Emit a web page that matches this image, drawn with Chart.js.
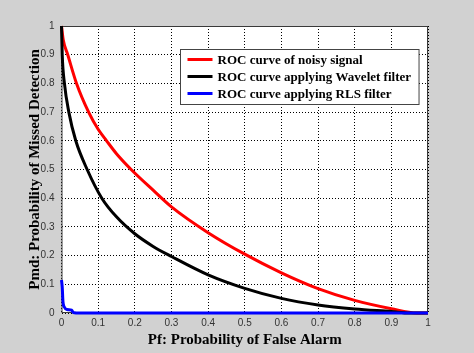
<!DOCTYPE html>
<html lang="en">
<head>
  <meta charset="UTF-8" />
  <title>ROC curves</title>
  <script src="https://cdn.jsdelivr.net/npm/chart.js"></script>
  <style>
    body {
      margin: 0;
      background: #d1d1d1;
    }
    canvas {
      display: block;
    }
  </style>
</head>
<body>
<canvas id="chart" width="474" height="353"></canvas>

<script>
// values (Pf on x, Pmd on y)
const seriesLabels = [
  "ROC curve of noisy signal",
  "ROC curve applying Wavelet filter",
  "ROC curve applying RLS filter"
];
const seriesColors = ["#ff0000", "#000000", "#0000ff"];

const noisyPf  = [0, 0.005, 0.017, 0.041, 0.074, 0.1, 0.123, 0.15, 0.19, 0.25, 0.3, 0.4, 0.5, 0.6, 0.7, 0.8, 0.9, 0.97, 1];
const noisyPmd = [1, 0.95, 0.9, 0.8, 0.7, 0.64, 0.6, 0.555, 0.5, 0.428, 0.37, 0.28, 0.205, 0.14, 0.085, 0.044, 0.015, 0, 0];

const waveletPf  = [0, 0.002, 0.008, 0.02, 0.039, 0.07, 0.11, 0.15, 0.2, 0.25, 0.3, 0.4, 0.5, 0.6, 0.7, 0.8, 0.9, 0.95, 1];
const waveletPmd = [1, 0.9, 0.8, 0.7, 0.6, 0.5, 0.4, 0.335, 0.276, 0.232, 0.197, 0.133, 0.086, 0.051, 0.028, 0.014, 0.005, 0, 0];

const rlsPf  = [0, 0.002, 0.004, 0.008, 0.015, 0.028, 0.032, 0.05, 1];
const rlsPmd = [0.115, 0.09, 0.04, 0.02, 0.012, 0.01, 0.002, 0, 0];

const xTicks = [0, 0.1, 0.2, 0.3, 0.4, 0.5, 0.6, 0.7, 0.8, 0.9, 1];
const yTicks = [0, 0.1, 0.2, 0.3, 0.4, 0.5, 0.6, 0.7, 0.8, 0.9, 1];

const serif = "'Times New Roman', 'Liberation Serif', serif";
const sans = "Arial, 'Liberation Sans', sans-serif";

function toPoints(xs, ys) {
  return xs.map((x, i) => ({ x: x, y: ys[i] }));
}

// grey figure, white axes box, dark frame
const frame = {
  id: "frame",
  beforeDraw(chart) {
    const { ctx, chartArea: a } = chart;
    ctx.save();
    ctx.fillStyle = "#d1d1d1";
    ctx.fillRect(0, 0, chart.width, chart.height);
    ctx.fillStyle = "#ffffff";
    ctx.fillRect(a.left, a.top, a.right - a.left, a.bottom - a.top);
    ctx.restore();
  },
  beforeDatasetsDraw(chart) {
    const { ctx, chartArea: a } = chart;
    ctx.save();
    ctx.strokeStyle = "#3a3a3a";
    ctx.lineWidth = 1;
    ctx.strokeRect(a.left + 0.5, a.top + 0.5, a.right - a.left - 1, a.bottom - a.top - 1);
    ctx.restore();
  }
};

// matlab style legend, top right inside the axes
const boxLegend = {
  id: "boxLegend",
  afterDatasetsDraw(chart) {
    const { ctx, chartArea: a } = chart;
    const sets = chart.data.datasets;
    ctx.save();
    ctx.font = "bold 13px " + serif;
    let textW = 0;
    sets.forEach(ds => { textW = Math.max(textW, ctx.measureText(ds.label).width); });
    const rowH = 17;
    const w = 7 + 25 + 5 + textW + 8;
    const h = sets.length * rowH + 4;
    const right = a.right - 9;
    const x0 = Math.round(right - w) + 0.5;
    const y0 = a.top + 23.5;
    ctx.fillStyle = "#ffffff";
    ctx.fillRect(x0, y0, w, h);
    ctx.strokeStyle = "#444444";
    ctx.lineWidth = 1;
    ctx.strokeRect(x0, y0, w, h);
    sets.forEach((ds, i) => {
      const y = y0 + 10 + i * rowH;
      ctx.strokeStyle = ds.borderColor;
      ctx.lineWidth = 3;
      ctx.beginPath();
      ctx.moveTo(x0 + 7, y);
      ctx.lineTo(x0 + 32, y);
      ctx.stroke();
      ctx.fillStyle = "#000000";
      ctx.textBaseline = "middle";
      ctx.fillText(ds.label, x0 + 37, y + 1);
    });
    ctx.restore();
  }
};

const ctx = document.getElementById("chart").getContext("2d");
new Chart(ctx, {
  type: "line",
  data: {
    datasets: [
      { label: seriesLabels[0], data: toPoints(noisyPf, noisyPmd), borderColor: seriesColors[0], order: 2 },
      { label: seriesLabels[1], data: toPoints(waveletPf, waveletPmd), borderColor: seriesColors[1], order: 1 },
      { label: seriesLabels[2], data: toPoints(rlsPf, rlsPmd), borderColor: seriesColors[2], order: 0 }
    ]
  },
  options: {
    responsive: false,
    animation: false,
    datasets: {
      line: {
        borderWidth: 3,
        pointRadius: 0,
        fill: false,
        cubicInterpolationMode: "monotone",
        clip: 4
      }
    },
    layout: { padding: { left: 0, top: 26, right: 46, bottom: 0 } },
    plugins: {
      legend: { display: false },
      tooltip: { enabled: false }
    },
    scales: {
      x: {
        type: "linear",
        min: 0,
        max: 1,
        afterBuildTicks: s => { s.ticks = xTicks.map(v => ({ value: v })); },
        afterFit: s => { s.height = 40; },
        ticks: {
          font: { family: sans, size: 10 },
          color: "#333333",
          padding: 4,
          maxRotation: 0,
          callback: v => String(v)
        },
        grid: {
          color: "#000000",
          lineWidth: 1,
          drawTicks: false
        },
        border: { display: false, dash: [1, 2] },
        title: {
          display: true,
          text: "Pf: Probability of False Alarm",
          font: { family: serif, size: 15, weight: "bold" },
          color: "#000000",
          padding: { top: 0, bottom: 4 }
        }
      },
      y: {
        type: "linear",
        min: 0,
        max: 1,
        afterBuildTicks: s => { s.ticks = yTicks.map(v => ({ value: v })); },
        afterFit: s => { s.width = 61.5; },
        ticks: {
          font: { family: sans, size: 10 },
          color: "#333333",
          padding: 7,
          callback: v => String(v)
        },
        grid: {
          color: "#000000",
          lineWidth: 1,
          drawTicks: false
        },
        border: { display: false, dash: [1, 2] },
        title: {
          display: true,
          text: "Pmd: Probability of Missed Detection",
          font: { family: serif, size: 15, weight: "bold" },
          color: "#000000",
          padding: { top: 26, bottom: 0 }
        }
      }
    }
  },
  plugins: [frame, boxLegend]
});
</script>
</body>
</html>
